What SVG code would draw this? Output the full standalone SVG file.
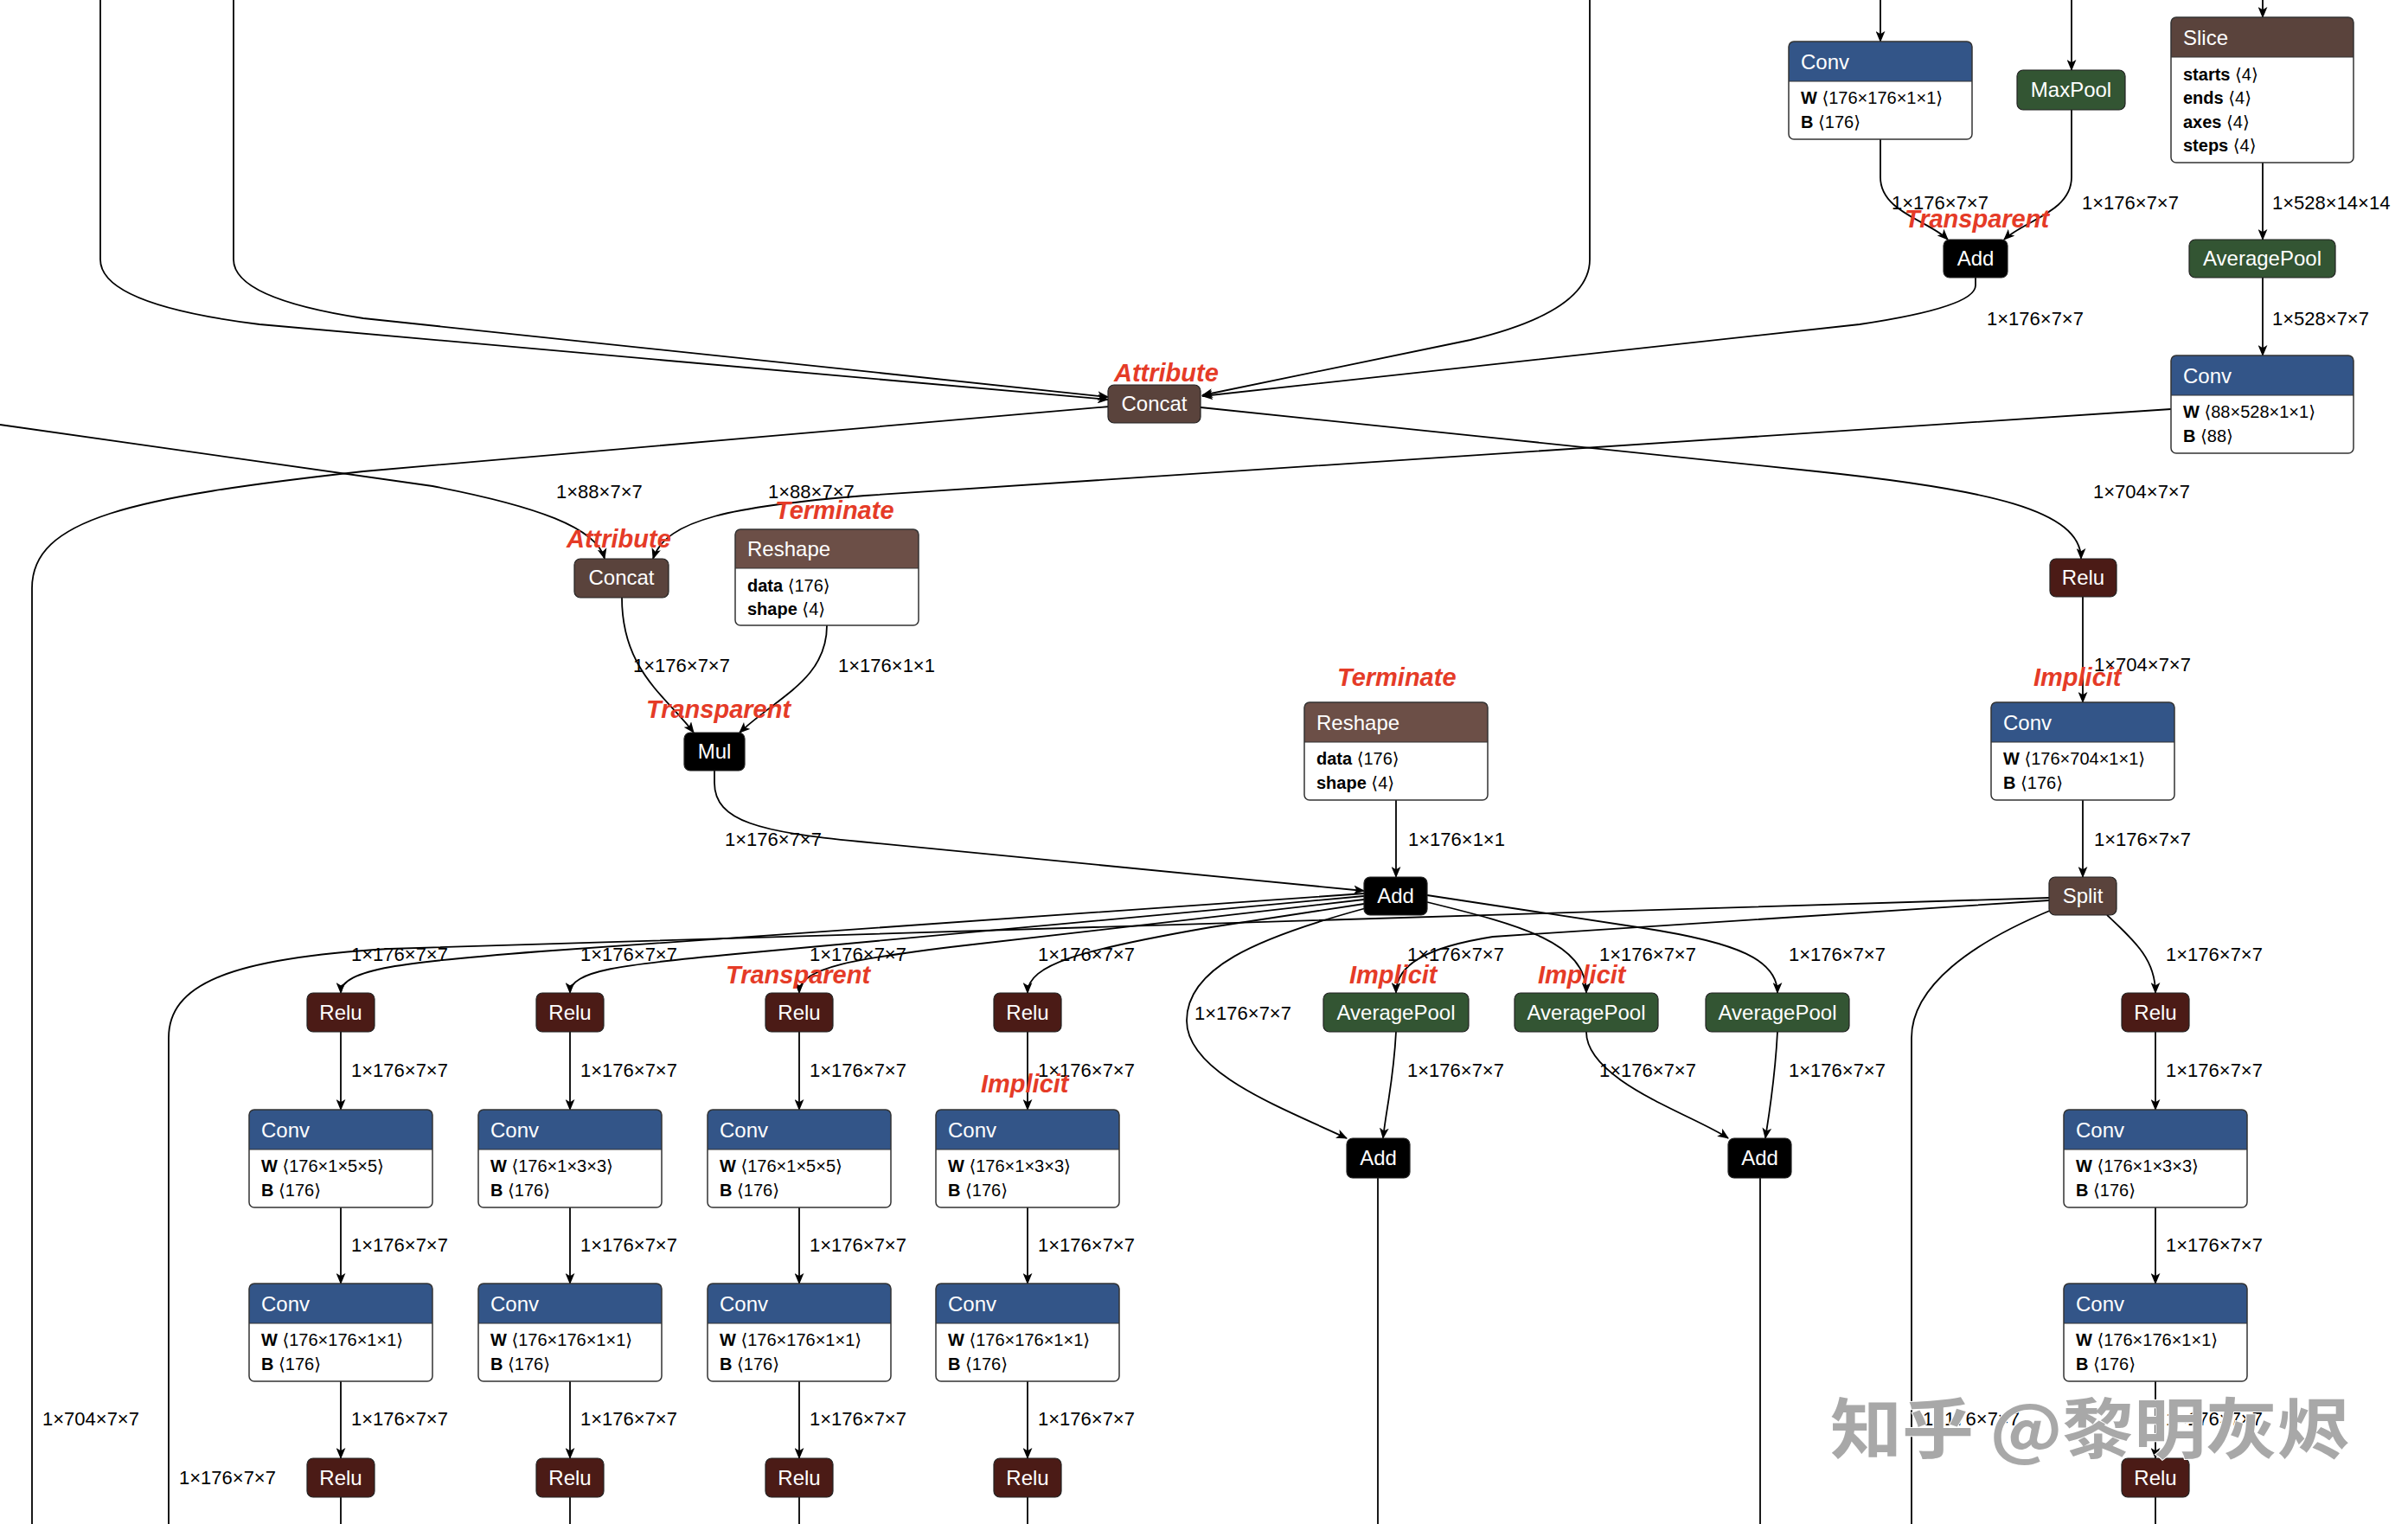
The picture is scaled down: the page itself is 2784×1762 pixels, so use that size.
<svg xmlns="http://www.w3.org/2000/svg" width="2784" height="1762" viewBox="0 0 2784 1762">
<defs>
<marker id="ah" viewBox="0 0 12 10" refX="11" refY="5" markerWidth="13" markerHeight="11" markerUnits="userSpaceOnUse" orient="auto"><path d="M0,0 L12,5 L0,10 L3,5 Z" fill="#000"/></marker>
<style>
.e{fill:none;stroke:#000;stroke-width:1.8}
.a{marker-end:url(#ah)}
.lbl{font-family:"Liberation Sans",Arial,sans-serif;font-size:22px;fill:#000}
.red{font-family:"Liberation Sans",Arial,sans-serif;font-size:29px;font-style:italic;font-weight:bold;fill:#e53b27}
.ht{font-family:"Liberation Sans",Arial,sans-serif;font-size:24px;fill:#fff}
.at{font-family:"Liberation Sans","DejaVu Sans",sans-serif;font-size:20px;fill:#000}
.ab{font-weight:bold}
.body{fill:#fff}
.frame{fill:none;stroke:#333;stroke-width:1.5}
.sep{stroke:#333;stroke-width:1.2}
.sn{stroke:#222;stroke-width:1.2}
.conv{fill:#335588}
.pool{fill:#335533}
.act{fill:#4b1b16}
.tensor{fill:#5a433c}
.shape{fill:#6c4f47}
.blk{fill:#000}
.wm{font-family:"Noto Sans CJK SC",sans-serif;font-size:76px;font-weight:bold;fill:#a8a8a8;stroke:#fff;stroke-width:2;paint-order:stroke}
</style>
</defs>
<rect width="2784" height="1762" fill="#fff"/>

<g id="connectors">
<!-- top area -->
<path class="e a" d="M2174 0 V48"/>
<path class="e a" d="M2395 0 V81"/>
<path class="e a" d="M2616 0 V20"/>
<path class="e a" d="M2616 188 V277"/>
<path class="e a" d="M2616 321 V411"/>
<path class="e a" d="M2174 161 V205 C2174 245 2230 255 2252 277"/>
<path class="e a" d="M2395 127 V205 C2395 245 2340 255 2317 277"/>
<path class="e a" d="M2284 321 V330 Q2284 355 2150 375 L1390 458"/>
<path class="e a" d="M1838 0 V300 Q1838 360 1700 393 L1390 457"/>
<path class="e a" d="M116 0 V300 Q116 352 300 375 L1281 462"/>
<path class="e a" d="M270 0 V300 Q270 345 420 368 L1281 459"/>
<path class="e" d="M1283 470 L420 545 C150 575 37 600 37 680 V1762"/>
<path class="e a" d="M1388 471 L2100 545 C2300 566 2406 590 2406 646"/>
<path class="e a" d="M0 491 L500 562 C620 585 690 610 699 646"/>
<path class="e a" d="M2510 473 L1000 573 C850 585 770 600 755 646"/>
<path class="e a" d="M719 691 C719 775 770 805 802 847"/>
<path class="e a" d="M956 723 C956 785 900 805 855 847"/>
<path class="e a" d="M826 891 V905 C826 950 880 962 994 973 L1577 1030"/>
<path class="e a" d="M1614 925 V1014"/>
<path class="e a" d="M2408 690 V812"/>
<path class="e a" d="M2408 925 V1014"/>
<!-- from Add (middle) -->
<path class="e a" d="M1577 1033 L625 1100 C470 1112 394 1120 394 1148"/>
<path class="e a" d="M1577 1036 L850 1103 C720 1115 659 1122 659 1148"/>
<path class="e a" d="M1577 1040 L1116 1093 C990 1108 924 1118 924 1148"/>
<path class="e a" d="M1577 1045 L1400 1072 C1250 1098 1188 1115 1188 1148"/>
<path class="e a" d="M1650 1043 C1760 1070 1834 1090 1834 1148"/>
<path class="e a" d="M1650 1035 L1900 1073 C2010 1090 2055 1110 2055 1148"/>
<path class="e a" d="M1579 1050 C1450 1085 1372 1120 1372 1180 C1372 1240 1480 1280 1557 1316"/>
<!-- from Split -->
<path class="e" d="M2369 1038 L450 1097 C260 1108 195 1140 195 1200 V1762"/>
<path class="e a" d="M2369 1041 L1726 1083 C1650 1095 1614 1115 1614 1148"/>
<path class="e a" d="M2436 1058 C2470 1090 2492 1110 2492 1148"/>
<path class="e" d="M2372 1052 C2280 1090 2210 1140 2210 1200 V1762"/>
<!-- pools to adds -->
<path class="e a" d="M1614 1193 C1611 1250 1603 1280 1599 1316"/>
<path class="e a" d="M1834 1193 C1834 1250 1960 1290 1998 1316"/>
<path class="e a" d="M2055 1193 C2052 1250 2045 1290 2041 1316"/>
<path class="e" d="M1593 1362 V1762"/>
<path class="e" d="M2035 1362 V1762"/>
<!-- separable conv columns -->
<path class="e a" d="M394 1193 V1283"/><path class="e a" d="M394 1396 V1484"/><path class="e a" d="M394 1597 V1686"/><path class="e" d="M394 1731 V1762"/>
<path class="e a" d="M659 1193 V1283"/><path class="e a" d="M659 1396 V1484"/><path class="e a" d="M659 1597 V1686"/><path class="e" d="M659 1731 V1762"/>
<path class="e a" d="M924 1193 V1283"/><path class="e a" d="M924 1396 V1484"/><path class="e a" d="M924 1597 V1686"/><path class="e" d="M924 1731 V1762"/>
<path class="e a" d="M1188 1193 V1283"/><path class="e a" d="M1188 1396 V1484"/><path class="e a" d="M1188 1597 V1686"/><path class="e" d="M1188 1731 V1762"/>
<path class="e a" d="M2492 1193 V1283"/><path class="e a" d="M2492 1396 V1484"/><path class="e a" d="M2492 1597 V1686"/><path class="e" d="M2492 1731 V1762"/>
</g>

<g id="edge-labels">
<text class="lbl" x="2187" y="242">1×176×7×7</text>
<text class="lbl" x="2407" y="242">1×176×7×7</text>
<text class="lbl" x="2627" y="242">1×528×14×14</text>
<text class="lbl" x="2297" y="376">1×176×7×7</text>
<text class="lbl" x="2627" y="376">1×528×7×7</text>
<text class="lbl" x="2420" y="576">1×704×7×7</text>
<text class="lbl" x="643" y="576">1×88×7×7</text>
<text class="lbl" x="888" y="576">1×88×7×7</text>
<text class="lbl" x="732" y="777">1×176×7×7</text>
<text class="lbl" x="969" y="777">1×176×1×1</text>
<text class="lbl" x="838" y="978">1×176×7×7</text>
<text class="lbl" x="1628" y="978">1×176×1×1</text>
<text class="lbl" x="2421" y="776">1×704×7×7</text>
<text class="lbl" x="2421" y="978">1×176×7×7</text>
<text class="lbl" x="406" y="1111">1×176×7×7</text>
<text class="lbl" x="671" y="1111">1×176×7×7</text>
<text class="lbl" x="936" y="1111">1×176×7×7</text>
<text class="lbl" x="1200" y="1111">1×176×7×7</text>
<text class="lbl" x="1627" y="1111">1×176×7×7</text>
<text class="lbl" x="1849" y="1111">1×176×7×7</text>
<text class="lbl" x="2068" y="1111">1×176×7×7</text>
<text class="lbl" x="2504" y="1111">1×176×7×7</text>
<text class="lbl" x="1381" y="1179">1×176×7×7</text>
<text class="lbl" x="406" y="1245">1×176×7×7</text>
<text class="lbl" x="671" y="1245">1×176×7×7</text>
<text class="lbl" x="936" y="1245">1×176×7×7</text>
<text class="lbl" x="1200" y="1245">1×176×7×7</text>
<text class="lbl" x="1627" y="1245">1×176×7×7</text>
<text class="lbl" x="1849" y="1245">1×176×7×7</text>
<text class="lbl" x="2068" y="1245">1×176×7×7</text>
<text class="lbl" x="2504" y="1245">1×176×7×7</text>
<text class="lbl" x="406" y="1447">1×176×7×7</text>
<text class="lbl" x="671" y="1447">1×176×7×7</text>
<text class="lbl" x="936" y="1447">1×176×7×7</text>
<text class="lbl" x="1200" y="1447">1×176×7×7</text>
<text class="lbl" x="2504" y="1447">1×176×7×7</text>
<text class="lbl" x="406" y="1648">1×176×7×7</text>
<text class="lbl" x="671" y="1648">1×176×7×7</text>
<text class="lbl" x="936" y="1648">1×176×7×7</text>
<text class="lbl" x="1200" y="1648">1×176×7×7</text>
<text class="lbl" x="2504" y="1648">1×176×7×7</text>
<text class="lbl" x="2223" y="1648">1×176×7×7</text>
<text class="lbl" x="49" y="1648">1×704×7×7</text>
<text class="lbl" x="207" y="1716">1×176×7×7</text>
</g>

<g id="nodes">
<g id="conv_a">
<rect class="body" x="2068" y="48" width="212" height="113" rx="6"/>
<path class="conv" d="M2068 94 V54 Q2068 48 2074 48 H2274 Q2280 48 2280 54 V94 Z"/>
<line class="sep" x1="2068" y1="94" x2="2280" y2="94"/>
<rect class="frame" x="2068" y="48" width="212" height="113" rx="6"/>
<text class="ht" x="2082" y="80">Conv</text>
<text class="at" x="2082" y="120"><tspan class="ab">W</tspan> ⟨176×176×1×1⟩</text>
<text class="at" x="2082" y="148"><tspan class="ab">B</tspan> ⟨176⟩</text>
</g>
<g id="maxpool">
<rect class="pool sn" x="2332" y="81" width="125" height="46" rx="7"/>
<text class="ht" x="2394.5" y="112" text-anchor="middle">MaxPool</text>
</g>
<g id="slice">
<rect class="body" x="2510" y="20" width="211" height="168" rx="6"/>
<path class="tensor" d="M2510 66 V26 Q2510 20 2516 20 H2715 Q2721 20 2721 26 V66 Z"/>
<line class="sep" x1="2510" y1="66" x2="2721" y2="66"/>
<rect class="frame" x="2510" y="20" width="211" height="168" rx="6"/>
<text class="ht" x="2524" y="52">Slice</text>
<text class="at" x="2524" y="93"><tspan class="ab">starts</tspan> ⟨4⟩</text>
<text class="at" x="2524" y="120"><tspan class="ab">ends</tspan> ⟨4⟩</text>
<text class="at" x="2524" y="148"><tspan class="ab">axes</tspan> ⟨4⟩</text>
<text class="at" x="2524" y="175"><tspan class="ab">steps</tspan> ⟨4⟩</text>
</g>
<g id="add_top">
<rect class="blk sn" x="2247" y="277" width="74" height="44" rx="7"/>
<text class="ht" x="2284" y="307" text-anchor="middle">Add</text>
</g>
<g id="avgpool_top">
<rect class="pool sn" x="2531" y="277" width="169" height="44" rx="7"/>
<text class="ht" x="2615.5" y="307" text-anchor="middle">AveragePool</text>
</g>
<g id="conv_88">
<rect class="body" x="2510" y="411" width="211" height="113" rx="6"/>
<path class="conv" d="M2510 457 V417 Q2510 411 2516 411 H2715 Q2721 411 2721 417 V457 Z"/>
<line class="sep" x1="2510" y1="457" x2="2721" y2="457"/>
<rect class="frame" x="2510" y="411" width="211" height="113" rx="6"/>
<text class="ht" x="2524" y="443">Conv</text>
<text class="at" x="2524" y="483"><tspan class="ab">W</tspan> ⟨88×528×1×1⟩</text>
<text class="at" x="2524" y="511"><tspan class="ab">B</tspan> ⟨88⟩</text>
</g>
<g id="concat_top">
<rect class="tensor sn" x="1281" y="445" width="107" height="44" rx="7"/>
<text class="ht" x="1334.5" y="475" text-anchor="middle">Concat</text>
</g>
<g id="concat_small">
<rect class="tensor sn" x="664" y="646" width="109" height="45" rx="7"/>
<text class="ht" x="718.5" y="676" text-anchor="middle">Concat</text>
</g>
<g id="reshape_small">
<rect class="body" x="850" y="612" width="212" height="111" rx="6"/>
<path class="shape" d="M850 657 V618 Q850 612 856 612 H1056 Q1062 612 1062 618 V657 Z"/>
<line class="sep" x1="850" y1="657" x2="1062" y2="657"/>
<rect class="frame" x="850" y="612" width="212" height="111" rx="6"/>
<text class="ht" x="864" y="643">Reshape</text>
<text class="at" x="864" y="684"><tspan class="ab">data</tspan> ⟨176⟩</text>
<text class="at" x="864" y="711"><tspan class="ab">shape</tspan> ⟨4⟩</text>
</g>
<g id="mul">
<rect class="blk sn" x="791" y="847" width="70" height="44" rx="7"/>
<text class="ht" x="826" y="877" text-anchor="middle">Mul</text>
</g>
<g id="relu_top">
<rect class="act sn" x="2370" y="646" width="77" height="44" rx="7"/>
<text class="ht" x="2408.5" y="676" text-anchor="middle">Relu</text>
</g>
<g id="reshape_mid">
<rect class="body" x="1508" y="812" width="212" height="113" rx="6"/>
<path class="shape" d="M1508 858 V818 Q1508 812 1514 812 H1714 Q1720 812 1720 818 V858 Z"/>
<line class="sep" x1="1508" y1="858" x2="1720" y2="858"/>
<rect class="frame" x="1508" y="812" width="212" height="113" rx="6"/>
<text class="ht" x="1522" y="844">Reshape</text>
<text class="at" x="1522" y="884"><tspan class="ab">data</tspan> ⟨176⟩</text>
<text class="at" x="1522" y="912"><tspan class="ab">shape</tspan> ⟨4⟩</text>
</g>
<g id="conv_right">
<rect class="body" x="2302" y="812" width="212" height="113" rx="6"/>
<path class="conv" d="M2302 858 V818 Q2302 812 2308 812 H2508 Q2514 812 2514 818 V858 Z"/>
<line class="sep" x1="2302" y1="858" x2="2514" y2="858"/>
<rect class="frame" x="2302" y="812" width="212" height="113" rx="6"/>
<text class="ht" x="2316" y="844">Conv</text>
<text class="at" x="2316" y="884"><tspan class="ab">W</tspan> ⟨176×704×1×1⟩</text>
<text class="at" x="2316" y="912"><tspan class="ab">B</tspan> ⟨176⟩</text>
</g>
<g id="add_mid">
<rect class="blk sn" x="1577" y="1014" width="73" height="44" rx="7"/>
<text class="ht" x="1613.5" y="1044" text-anchor="middle">Add</text>
</g>
<g id="split">
<rect class="tensor sn" x="2369" y="1014" width="78" height="44" rx="7"/>
<text class="ht" x="2408" y="1044" text-anchor="middle">Split</text>
</g>

<g id="relu_1a"><rect class="act sn" x="355" y="1148" width="78" height="45" rx="7"/><text class="ht" x="394" y="1179" text-anchor="middle">Relu</text></g>
<g id="relu_2a"><rect class="act sn" x="620" y="1148" width="78" height="45" rx="7"/><text class="ht" x="659" y="1179" text-anchor="middle">Relu</text></g>
<g id="relu_3a"><rect class="act sn" x="885" y="1148" width="78" height="45" rx="7"/><text class="ht" x="924" y="1179" text-anchor="middle">Relu</text></g>
<g id="relu_4a"><rect class="act sn" x="1149" y="1148" width="78" height="45" rx="7"/><text class="ht" x="1188" y="1179" text-anchor="middle">Relu</text></g>
<g id="relu_5a"><rect class="act sn" x="2453" y="1148" width="78" height="45" rx="7"/><text class="ht" x="2492" y="1179" text-anchor="middle">Relu</text></g>
<g id="avgpool_1"><rect class="pool sn" x="1530" y="1148" width="168" height="45" rx="7"/><text class="ht" x="1614" y="1179" text-anchor="middle">AveragePool</text></g>
<g id="avgpool_2"><rect class="pool sn" x="1751" y="1148" width="166" height="45" rx="7"/><text class="ht" x="1834" y="1179" text-anchor="middle">AveragePool</text></g>
<g id="avgpool_3"><rect class="pool sn" x="1972" y="1148" width="166" height="45" rx="7"/><text class="ht" x="2055" y="1179" text-anchor="middle">AveragePool</text></g>
<g id="add_b1"><rect class="blk sn" x="1557" y="1316" width="73" height="46" rx="7"/><text class="ht" x="1593.5" y="1347" text-anchor="middle">Add</text></g>
<g id="add_b2"><rect class="blk sn" x="1998" y="1316" width="73" height="46" rx="7"/><text class="ht" x="2034.5" y="1347" text-anchor="middle">Add</text></g>

<g id="conv_1a">
<rect class="body" x="288" y="1283" width="212" height="113" rx="6"/>
<path class="conv" d="M288 1329 V1289 Q288 1283 294 1283 H494 Q500 1283 500 1289 V1329 Z"/>
<line class="sep" x1="288" y1="1329" x2="500" y2="1329"/>
<rect class="frame" x="288" y="1283" width="212" height="113" rx="6"/>
<text class="ht" x="302" y="1315">Conv</text>
<text class="at" x="302" y="1355"><tspan class="ab">W</tspan> ⟨176×1×5×5⟩</text>
<text class="at" x="302" y="1383"><tspan class="ab">B</tspan> ⟨176⟩</text>
</g>
<g id="conv_2a">
<rect class="body" x="553" y="1283" width="212" height="113" rx="6"/>
<path class="conv" d="M553 1329 V1289 Q553 1283 559 1283 H759 Q765 1283 765 1289 V1329 Z"/>
<line class="sep" x1="553" y1="1329" x2="765" y2="1329"/>
<rect class="frame" x="553" y="1283" width="212" height="113" rx="6"/>
<text class="ht" x="567" y="1315">Conv</text>
<text class="at" x="567" y="1355"><tspan class="ab">W</tspan> ⟨176×1×3×3⟩</text>
<text class="at" x="567" y="1383"><tspan class="ab">B</tspan> ⟨176⟩</text>
</g>
<g id="conv_3a">
<rect class="body" x="818" y="1283" width="212" height="113" rx="6"/>
<path class="conv" d="M818 1329 V1289 Q818 1283 824 1283 H1024 Q1030 1283 1030 1289 V1329 Z"/>
<line class="sep" x1="818" y1="1329" x2="1030" y2="1329"/>
<rect class="frame" x="818" y="1283" width="212" height="113" rx="6"/>
<text class="ht" x="832" y="1315">Conv</text>
<text class="at" x="832" y="1355"><tspan class="ab">W</tspan> ⟨176×1×5×5⟩</text>
<text class="at" x="832" y="1383"><tspan class="ab">B</tspan> ⟨176⟩</text>
</g>
<g id="conv_4a">
<rect class="body" x="1082" y="1283" width="212" height="113" rx="6"/>
<path class="conv" d="M1082 1329 V1289 Q1082 1283 1088 1283 H1288 Q1294 1283 1294 1289 V1329 Z"/>
<line class="sep" x1="1082" y1="1329" x2="1294" y2="1329"/>
<rect class="frame" x="1082" y="1283" width="212" height="113" rx="6"/>
<text class="ht" x="1096" y="1315">Conv</text>
<text class="at" x="1096" y="1355"><tspan class="ab">W</tspan> ⟨176×1×3×3⟩</text>
<text class="at" x="1096" y="1383"><tspan class="ab">B</tspan> ⟨176⟩</text>
</g>
<g id="conv_5a">
<rect class="body" x="2386" y="1283" width="212" height="113" rx="6"/>
<path class="conv" d="M2386 1329 V1289 Q2386 1283 2392 1283 H2592 Q2598 1283 2598 1289 V1329 Z"/>
<line class="sep" x1="2386" y1="1329" x2="2598" y2="1329"/>
<rect class="frame" x="2386" y="1283" width="212" height="113" rx="6"/>
<text class="ht" x="2400" y="1315">Conv</text>
<text class="at" x="2400" y="1355"><tspan class="ab">W</tspan> ⟨176×1×3×3⟩</text>
<text class="at" x="2400" y="1383"><tspan class="ab">B</tspan> ⟨176⟩</text>
</g>

<g id="conv_1b">
<rect class="body" x="288" y="1484" width="212" height="113" rx="6"/>
<path class="conv" d="M288 1530 V1490 Q288 1484 294 1484 H494 Q500 1484 500 1490 V1530 Z"/>
<line class="sep" x1="288" y1="1530" x2="500" y2="1530"/>
<rect class="frame" x="288" y="1484" width="212" height="113" rx="6"/>
<text class="ht" x="302" y="1516">Conv</text>
<text class="at" x="302" y="1556"><tspan class="ab">W</tspan> ⟨176×176×1×1⟩</text>
<text class="at" x="302" y="1584"><tspan class="ab">B</tspan> ⟨176⟩</text>
</g>
<g id="conv_2b">
<rect class="body" x="553" y="1484" width="212" height="113" rx="6"/>
<path class="conv" d="M553 1530 V1490 Q553 1484 559 1484 H759 Q765 1484 765 1490 V1530 Z"/>
<line class="sep" x1="553" y1="1530" x2="765" y2="1530"/>
<rect class="frame" x="553" y="1484" width="212" height="113" rx="6"/>
<text class="ht" x="567" y="1516">Conv</text>
<text class="at" x="567" y="1556"><tspan class="ab">W</tspan> ⟨176×176×1×1⟩</text>
<text class="at" x="567" y="1584"><tspan class="ab">B</tspan> ⟨176⟩</text>
</g>
<g id="conv_3b">
<rect class="body" x="818" y="1484" width="212" height="113" rx="6"/>
<path class="conv" d="M818 1530 V1490 Q818 1484 824 1484 H1024 Q1030 1484 1030 1490 V1530 Z"/>
<line class="sep" x1="818" y1="1530" x2="1030" y2="1530"/>
<rect class="frame" x="818" y="1484" width="212" height="113" rx="6"/>
<text class="ht" x="832" y="1516">Conv</text>
<text class="at" x="832" y="1556"><tspan class="ab">W</tspan> ⟨176×176×1×1⟩</text>
<text class="at" x="832" y="1584"><tspan class="ab">B</tspan> ⟨176⟩</text>
</g>
<g id="conv_4b">
<rect class="body" x="1082" y="1484" width="212" height="113" rx="6"/>
<path class="conv" d="M1082 1530 V1490 Q1082 1484 1088 1484 H1288 Q1294 1484 1294 1490 V1530 Z"/>
<line class="sep" x1="1082" y1="1530" x2="1294" y2="1530"/>
<rect class="frame" x="1082" y="1484" width="212" height="113" rx="6"/>
<text class="ht" x="1096" y="1516">Conv</text>
<text class="at" x="1096" y="1556"><tspan class="ab">W</tspan> ⟨176×176×1×1⟩</text>
<text class="at" x="1096" y="1584"><tspan class="ab">B</tspan> ⟨176⟩</text>
</g>
<g id="conv_5b">
<rect class="body" x="2386" y="1484" width="212" height="113" rx="6"/>
<path class="conv" d="M2386 1530 V1490 Q2386 1484 2392 1484 H2592 Q2598 1484 2598 1490 V1530 Z"/>
<line class="sep" x1="2386" y1="1530" x2="2598" y2="1530"/>
<rect class="frame" x="2386" y="1484" width="212" height="113" rx="6"/>
<text class="ht" x="2400" y="1516">Conv</text>
<text class="at" x="2400" y="1556"><tspan class="ab">W</tspan> ⟨176×176×1×1⟩</text>
<text class="at" x="2400" y="1584"><tspan class="ab">B</tspan> ⟨176⟩</text>
</g>

<g id="relu_1b"><rect class="act sn" x="355" y="1686" width="78" height="45" rx="7"/><text class="ht" x="394" y="1717" text-anchor="middle">Relu</text></g>
<g id="relu_2b"><rect class="act sn" x="620" y="1686" width="78" height="45" rx="7"/><text class="ht" x="659" y="1717" text-anchor="middle">Relu</text></g>
<g id="relu_3b"><rect class="act sn" x="885" y="1686" width="78" height="45" rx="7"/><text class="ht" x="924" y="1717" text-anchor="middle">Relu</text></g>
<g id="relu_4b"><rect class="act sn" x="1149" y="1686" width="78" height="45" rx="7"/><text class="ht" x="1188" y="1717" text-anchor="middle">Relu</text></g>
<g id="relu_5b"><rect class="act sn" x="2453" y="1686" width="78" height="45" rx="7"/><text class="ht" x="2492" y="1717" text-anchor="middle">Relu</text></g>
</g>

<g id="annotations">
<text class="red" x="2202" y="263">Transparent</text>
<text class="red" x="1288" y="441">Attribute</text>
<text class="red" x="896" y="600">Terminate</text>
<text class="red" x="655" y="633">Attribute</text>
<text class="red" x="747" y="830">Transparent</text>
<text class="red" x="1546" y="793">Terminate</text>
<text class="red" x="2351" y="793">Implicit</text>
<text class="red" x="839" y="1137">Transparent</text>
<text class="red" x="1560" y="1137">Implicit</text>
<text class="red" x="1778" y="1137">Implicit</text>
<text class="red" x="1134" y="1263">Implicit</text>
</g>

<text class="wm" x="2116" y="1680" textLength="600" lengthAdjust="spacingAndGlyphs">知乎 @黎明灰烬</text>
</svg>
